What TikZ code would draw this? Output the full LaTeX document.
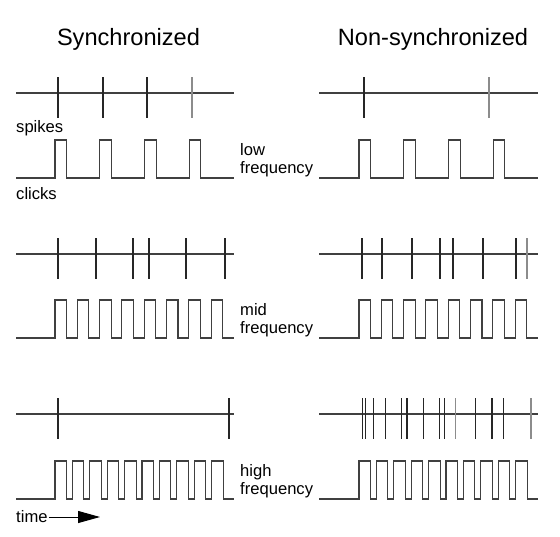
\documentclass[tikz,border=0pt]{standalone}
\usepackage{fontspec}
\setmainfont{Liberation Sans}
\usetikzlibrary{arrows.meta,positioning}

\begin{document}
\begin{tikzpicture}[
  x=1pt, y=-1pt,
  wave/.style={line width=1.1pt, black!75, line join=miter},
  spike/.style={line width=1.2pt, black!85},
  faint/.style={line width=1.2pt, black!45},
  title/.style={inner sep=0pt, anchor=base, font=\fontsize{23.6}{28}\selectfont},
  lab/.style={inner sep=0pt, anchor=base west, font=\fontsize{16.6}{20}\selectfont}
]
\useasboundingbox[fill=white] (0,0) rectangle (560,536);

% headings
\node[title] (sync) at (128.5,45) {Synchronized};
\node[title] (nonsync) at (433,45) {Non-synchronized};

% spike trains
\foreach \yy in {93,254,414} {
  \draw[wave] (16,\yy) -- (234,\yy);
  \draw[wave] (319,\yy) -- (538,\yy);
}
\foreach \yy/\xs in {93/{58,103,147}, 93/{364},
    254/{58,96,133,149,186,225}, 254/{362,382,412,440,453,483,516},
    414/{58,229},
    414/{362.7,365.7,373.3,385.7,401.7,407,423.7,439.3,444.7,475.3,492,503.3}}
  \foreach \x in \xs
    \draw[spike] (\x,\yy-16) -- (\x,\yy+25);
\foreach \yy/\x in {93/192, 93/489, 254/527, 414/455.7, 414/531}
  \draw[faint] (\x,\yy-16) -- (\x,\yy+25);

% click trains
\foreach \xa/\xo/\xb/\yb/\per/\n in {16/55/234/178/44.8/4, 319/359/538/178/44.8/4,
    16/55/234/338/22.3/8, 319/359/538/338/22.3/8,
    16/55/234/499/17.4/10, 319/359/538/499/17.4/10}
  \draw[wave] (\xa,\yb) \foreach \k in {1,...,\n} {
      -- ({\xo+(\k-1)*\per},\yb) -- ++(0,-38) -- ++(11.5,0) -- ++(0,38)}
    -- (\xb,\yb);

% labels
\node[lab] (spikes) at (16,132) {spikes};
\node[lab] (clicks) at (16,199) {clicks};
\node[lab] (low) at (240,155) {low};
\node[lab] (lowfreq) at ([yshift=-18pt]low.base west) {frequency};
\node[lab] (mid) at (240,315) {mid};
\node[lab] (midfreq) at ([yshift=-18pt]mid.base west) {frequency};
\node[lab] (high) at (240,476) {high};
\node[lab] (highfreq) at ([yshift=-18pt]high.base west) {frequency};

% time axis
\node[lab] (time) at (16,522) {time};
\coordinate (tip) at (100,517);
\draw[line width=1pt, -{Triangle[length=22pt,width=12pt]}] (time.east |- tip) ++(1,0) -- (tip);
\end{tikzpicture}
\end{document}
